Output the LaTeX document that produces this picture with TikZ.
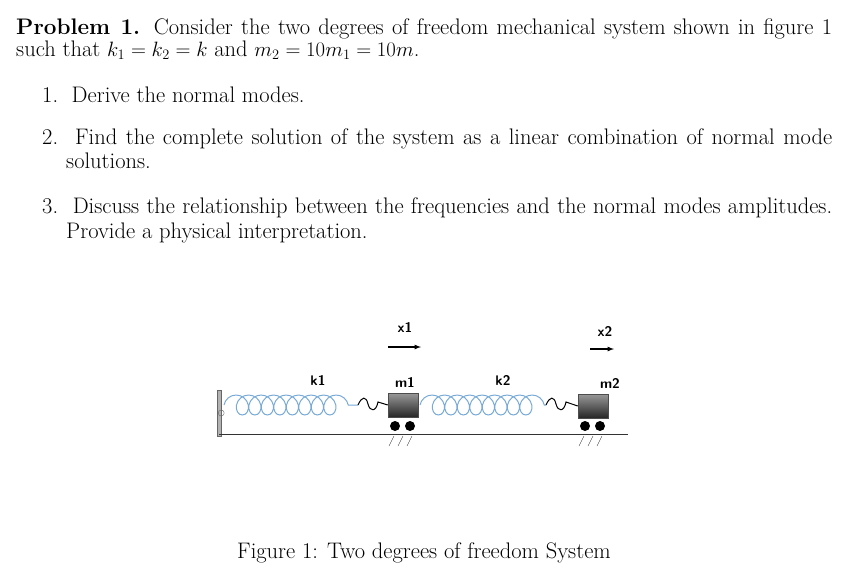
\documentclass[tikz,border=0pt]{standalone}
\usetikzlibrary{decorations.pathmorphing}
\definecolor{springc}{RGB}{120,170,215}
\tikzset{
  txt/.style={anchor=base west,inner sep=0,font=\fontsize{22.5}{26}\selectfont},
  lab/.style={inner sep=0,font=\sffamily\bfseries\fontsize{14}{16}\selectfont},
  spring/.style={springc,line width=1pt,decorate,decoration={coil,segment length=12.5pt,amplitude=10pt,aspect=0.9}},
  mass/.style={draw=black!70,top color=black!40,bottom color=black!85,minimum width=30pt,minimum height=24pt,inner sep=0},
  wheel/.style={circle,fill=black,minimum size=10pt,inner sep=0},
  hook/.style={black,line width=1pt}
}
\begin{document}
\begin{tikzpicture}[x=1pt,y=-1pt]
\useasboundingbox (0,0) rectangle (853,582);
\node[txt] (l1) at (16,34) {\makebox[816pt][s]{\textbf{Problem 1.} Consider the two degrees of freedom mechanical system shown in figure 1}};
\node[txt] (l2) at (16,56) {such that $k_1=k_2=k$ and $m_2=10m_1=10m$.};
\node[txt] (l3) at (42,102) {1.\ \ Derive the normal modes.};
\node[txt] (l4) at (42,144) {\makebox[790pt][s]{2.\ \ Find the complete solution of the system as a linear combination of normal mode}};
\node[txt] (l5) at (66,168) {solutions.};
\node[txt] (l6) at (42,213) {\makebox[790pt][s]{3.\ \ Discuss the relationship between the frequencies and the normal modes amplitudes.}};
\node[txt] (l7) at (66,238) {Provide a physical interpretation.};
\node[txt,anchor=base] (cap) at (424,558) {Figure 1: Two degrees of freedom System};
% ground and wall
\node[draw=black!60,fill=black!30,minimum width=4pt,minimum height=46pt,inner sep=0] (wall) at (219,413) {};
\coordinate (g0) at (219,434);
\coordinate (g1) at (628,434);
\draw[black!80,line width=1pt] (g0) -- (g1);
% masses
\node[mass] (m1) at (403,405) {};
\node[mass] (m2) at (593,406) {};
\foreach \m/\x in {m1/403,m2/593}{
  \node[wheel] (\m a) at (\x-8,426) {};
  \node[wheel] (\m b) at (\x+7,426) {};
  \foreach \h in {-14,-5,4}
    \draw[black!80] (\x+\h,446) -- (\x+\h+5,436);
}
% springs
\coordinate (s1a) at (224,405);
\coordinate (s1b) at (358,405);
\coordinate (s2a) at (420,405);
\coordinate (s2b) at (546,405);
\draw[spring] (s1a) -- (s1b);
\draw[spring] (s2a) -- (s2b);
\draw[hook] (s1b) .. controls (362,396) and (366,396) .. (368,404) .. controls (370,412) and (376,412) .. (378,402) -- (m1.west);
\draw[hook] (s2b) .. controls (550,396) and (554,396) .. (556,404) .. controls (558,412) and (564,412) .. (566,402) -- (m2.west);
\draw[black!60] (wall.east) circle (3pt);
% labels
\node[lab] (k1) at (318,380) {k1};
\node[lab] (lm1) at (405,382) {m1};
\node[lab] (k2) at (503,380) {k2};
\node[lab] (lm2) at (610,383) {m2};
\node[lab] (x1) at (405,327) {x1};
\node[lab] (x2) at (605,331) {x2};
\coordinate (a1) at (388,347); \coordinate (b1) at (421,347);
\coordinate (a2) at (590,349); \coordinate (b2) at (614,349);
\draw[-latex,line width=1.2pt] (a1) -- (b1);
\draw[-latex,line width=1.2pt] (a2) -- (b2);
\end{tikzpicture}
\end{document}
